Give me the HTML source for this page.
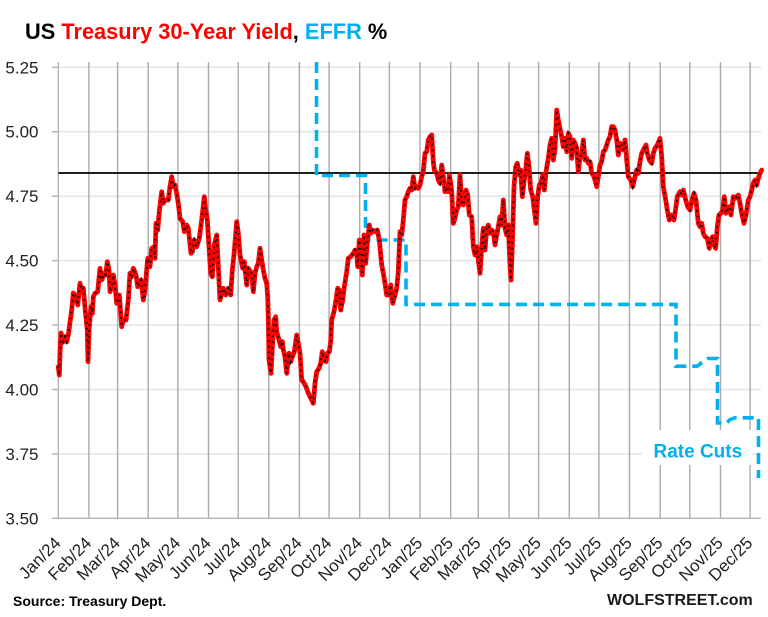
<!DOCTYPE html>
<html><head><meta charset="utf-8"><style>
html,body{margin:0;padding:0;background:#fff;}
svg{display:block;}
text{font-family:"Liberation Sans",Arial,sans-serif;}
</style></head><body>
<svg width="768" height="617" viewBox="0 0 768 617" xmlns="http://www.w3.org/2000/svg">
<defs>
<polyline id="yl" fill="none" points="58.3,366.7 59.3,375 60,353 61,333 63.3,341.7 65,336.7 66.7,341.7 68.3,335 71.7,310 73.3,293 75.7,296.7 77.7,305 80,283.3 81.7,290 83.3,288.3 85.7,315 87.3,330 88,361.7 89,330 91,306.7 92.3,313.3 93.3,296.7 95,293.3 97.7,291.7 100,268.3 101.7,280 104,273.3 105.7,275 107.3,261.7 109,270 110,291.7 111.7,286.7 113.3,275 115,285 116.7,303.3 119.3,295 121.7,326.7 123.3,320 126,320 128.3,300 130,273.3 131.7,276.7 133.3,268.3 136,275 137.7,286.7 141,280 143.3,300 145,290 147.7,258.3 150,266.7 151.7,248.3 154,246.7 155,258.3 156,223.3 157.7,230 159.3,211.7 161.7,191.7 163.3,203.3 165,200 168.3,200 170,186.7 171.7,176.7 173.3,186.7 175,185 176.7,193.3 178.3,203.3 180,218.3 182.7,221.7 184.3,231.7 186.7,225 188.3,228.3 191,253.3 192.3,251.7 194.3,240 196.7,246.7 199.3,238.3 201.7,220 204.3,196.7 205.7,210 207.3,220 209,246.7 210.7,273.3 212.3,276.7 214.3,245 216.7,235 218.3,266.7 220,300 221.7,293.3 223.3,288.3 225.7,295 228.3,288.3 230.7,295 232.3,270 234,255 236.7,221.7 238.3,233.3 240,255 242.7,268.3 244.3,261.7 246.7,285 248.3,268.3 251.7,273.3 253.3,291.7 255,273.3 256.7,266.7 258.3,263.3 260,248.3 261.7,260 263.3,270 265,278.3 266.7,283.3 267.7,296.7 268.3,316.7 269,360 271,373.3 272.7,340 274,320 275.7,316.7 276.7,331.7 279,340 280.7,346.7 282.3,341.7 283.3,350 285,356.7 286.7,373.3 289,353.3 290.7,361.7 292.3,356.7 294.3,351.7 296.7,335 298.3,343.3 300,353.3 301.7,380 303.3,381.7 306,386.7 308.3,393.3 310,396.7 311.7,400 313.3,403.3 315,383.3 316.7,371.7 319,368.3 320.7,363.3 322.3,351.7 324,360 326,361.7 327.3,353.3 329.3,351.7 330.7,341.7 331.7,320 334,311.7 336,300 337.7,288.3 339.3,290 340.7,310 342.7,300 344.3,286.7 346.7,271.7 348.3,258.3 350.7,256.7 353.3,253.3 355,250 356.7,253.3 357.7,266.7 359.3,240 361,256.7 362.3,275 364,235 365.7,263.3 367.3,243.3 369.3,225 370.7,233.3 372.7,230 375,231.7 377.3,230 379.3,240 381.7,265 383.3,273.3 385,283.3 386.7,295 389.3,295 390.7,285 392.7,303.3 395,295 396.7,288.3 398.3,271.7 400,231.7 401.7,235 403.3,220 405,200 406.7,196.7 408.3,191.7 410,188.3 411.7,190 413.3,176.7 415,188.3 416.7,186.7 418.3,188.3 420,185 421.7,176.7 423.3,171.7 425,153.3 426.7,151.7 428.3,140 430,136.7 431.7,135 433.3,161.7 434.3,170 436.7,173.3 438.3,180 440,183.3 441.7,165 443.3,176.7 445,191.7 446.7,186.7 448.3,191.7 449.3,175 450.7,183.3 451.7,191.7 453.3,223.3 455,218.3 456.7,210 458.3,206.7 460,175 461.7,203.3 463.3,205 465,196.7 466,190 467.7,195 469.3,215 471.7,216.7 473.3,246.7 475,255 476.7,246.7 478.3,260 480,273.3 481.7,246.7 483.3,228.3 485,250 486.7,228.3 488.3,225 490,233.3 491.7,230 493.3,231.7 495,245 496.7,235 498.3,226.7 500,216.7 501.7,225 503.3,200 505,228.3 506.7,235 508.3,225 510,265 511,280 512.3,245 514,186.7 515.7,166.7 517.3,163.3 519,175 520.7,170 522.3,196.7 524,181.7 525.7,170 527.3,153.3 529,166.7 530.7,190 532.7,196.7 534.3,210 536,223.3 537.7,196.7 539.3,185 541,183.3 542.7,175 544.3,190 546,171.7 548.3,158.3 550,145 551.7,138.3 553.3,160 555,150 556.7,110 558.3,120 560,128.3 561.7,136.7 563.3,146.7 565,138.3 566.7,151.7 568.3,133.3 570,136.7 571.7,158.3 573.3,140 575,143.3 576.7,148.3 578.3,171.7 580,156.7 581.7,155 583.3,140 585,160 586.7,158.3 588.3,163.3 590,161.7 591.7,173.3 593.3,175 595,180 596.7,186.7 598.3,176.7 600,165 601.7,161.7 603.3,151.7 605,150 606.7,145 608.3,140 610,136.7 611.7,126.7 613.3,126.7 615,130 616.7,140 618.3,155 620,143.3 621.7,145 623.3,150 625,140 626,150 626.7,160 628.3,176.7 630.7,180 632.7,186.7 635,176.7 636.7,170 638.3,173.3 640,161.7 641.7,153.3 643.3,150 646,145 647.3,153.3 649.3,160 651.7,163.3 653.3,153.3 655,148.3 657.3,145 660,138.3 661.7,156.7 663.3,186.7 665.7,200 667.3,210 669.3,220 671.7,215 674,220 676,206.7 677.3,196.7 680,191.7 681.7,195 683.3,190 685.7,200 687.7,206.7 690,210 691.7,201.7 694,193.3 696,200 698.3,223.3 700,226.7 701.7,223.3 703.3,233.3 705,236.7 707.3,238.3 709.3,248.3 710.7,240 712.7,236.7 714,245 715.7,248.3 717.3,226.7 719,215 721,213.3 722.7,210 724.3,196.7 726,213.3 727.3,210 729.3,206.7 731,215 733.3,196.7 735,198.3 736.7,196.7 738.3,195 740,203.3 741.7,213.3 744,223.3 746,215 748.3,200 750,196.7 751.7,190 753.3,183.3 755,180 756.7,185 758.3,178.3 760,173.3 761.7,170"/>
</defs>
<rect width="768" height="617" fill="#fff"/>
<text x="25" y="39" font-size="21.8" font-weight="bold" fill="#000">US <tspan fill="#ff0000">Treasury 30-Year Yield</tspan>, <tspan fill="#00b0f0">EFFR</tspan> %</text>

<g stroke="#e9e9ee" stroke-width="2">
<line x1="58.3" y1="67.3" x2="761" y2="67.3"/>
<line x1="58.3" y1="131.7" x2="761" y2="131.7"/>
<line x1="58.3" y1="196.2" x2="761" y2="196.2"/>
<line x1="58.3" y1="260.6" x2="761" y2="260.6"/>
<line x1="58.3" y1="325" x2="761" y2="325"/>
<line x1="58.3" y1="389.5" x2="761" y2="389.5"/>
<line x1="58.3" y1="453.9" x2="761" y2="453.9"/>
</g>
<g stroke="#ababab" stroke-width="1.4">
<line x1="88.9" y1="62" x2="88.9" y2="518.3"/>
<line x1="117.6" y1="62" x2="117.6" y2="518.3"/>
<line x1="148.2" y1="62" x2="148.2" y2="518.3"/>
<line x1="177.9" y1="62" x2="177.9" y2="518.3"/>
<line x1="208.5" y1="62" x2="208.5" y2="518.3"/>
<line x1="238.2" y1="62" x2="238.2" y2="518.3"/>
<line x1="268.8" y1="62" x2="268.8" y2="518.3"/>
<line x1="299.4" y1="62" x2="299.4" y2="518.3"/>
<line x1="329.1" y1="62" x2="329.1" y2="518.3"/>
<line x1="359.7" y1="62" x2="359.7" y2="518.3"/>
<line x1="389.4" y1="62" x2="389.4" y2="518.3"/>
<line x1="420" y1="62" x2="420" y2="518.3"/>
<line x1="450.7" y1="62" x2="450.7" y2="518.3"/>
<line x1="478.3" y1="62" x2="478.3" y2="518.3"/>
<line x1="509" y1="62" x2="509" y2="518.3"/>
<line x1="538.6" y1="62" x2="538.6" y2="518.3"/>
<line x1="569.3" y1="62" x2="569.3" y2="518.3"/>
<line x1="598.9" y1="62" x2="598.9" y2="518.3"/>
<line x1="629.5" y1="62" x2="629.5" y2="518.3"/>
<line x1="660.2" y1="62" x2="660.2" y2="518.3"/>
<line x1="689.8" y1="62" x2="689.8" y2="518.3"/>
<line x1="720.5" y1="62" x2="720.5" y2="518.3"/>
<line x1="750.1" y1="62" x2="750.1" y2="518.3"/>
</g>
<g stroke="#b5b5b5" stroke-width="1.4">
<line x1="58.3" y1="62" x2="58.3" y2="518.3"/>
<line x1="51.7" y1="518.3" x2="761" y2="518.3"/>
<line x1="51.7" y1="67.3" x2="58.3" y2="67.3"/>
<line x1="51.7" y1="131.7" x2="58.3" y2="131.7"/>
<line x1="51.7" y1="196.2" x2="58.3" y2="196.2"/>
<line x1="51.7" y1="260.6" x2="58.3" y2="260.6"/>
<line x1="51.7" y1="325" x2="58.3" y2="325"/>
<line x1="51.7" y1="389.5" x2="58.3" y2="389.5"/>
<line x1="51.7" y1="453.9" x2="58.3" y2="453.9"/>
</g>
<g font-size="17" fill="#1f1f1f" text-anchor="end">
<text x="38.5" y="73.3">5.25</text>
<text x="38.5" y="137.7">5.00</text>
<text x="38.5" y="202.2">4.75</text>
<text x="38.5" y="266.6">4.50</text>
<text x="38.5" y="331">4.25</text>
<text x="38.5" y="395.5">4.00</text>
<text x="38.5" y="459.9">3.75</text>
<text x="38.5" y="524.3">3.50</text>
</g>
<g font-size="17" fill="#1f1f1f" text-anchor="end">
<text transform="translate(61.8,544) rotate(-45)">Jan/24</text>
<text transform="translate(92.4,544) rotate(-45)">Feb/24</text>
<text transform="translate(121.1,544) rotate(-45)">Mar/24</text>
<text transform="translate(151.7,544) rotate(-45)">Apr/24</text>
<text transform="translate(181.4,544) rotate(-45)">May/24</text>
<text transform="translate(212,544) rotate(-45)">Jun/24</text>
<text transform="translate(241.7,544) rotate(-45)">Jul/24</text>
<text transform="translate(272.3,544) rotate(-45)">Aug/24</text>
<text transform="translate(302.9,544) rotate(-45)">Sep/24</text>
<text transform="translate(332.6,544) rotate(-45)">Oct/24</text>
<text transform="translate(363.2,544) rotate(-45)">Nov/24</text>
<text transform="translate(392.9,544) rotate(-45)">Dec/24</text>
<text transform="translate(423.5,544) rotate(-45)">Jan/25</text>
<text transform="translate(454.2,544) rotate(-45)">Feb/25</text>
<text transform="translate(481.8,544) rotate(-45)">Mar/25</text>
<text transform="translate(512.5,544) rotate(-45)">Apr/25</text>
<text transform="translate(542.1,544) rotate(-45)">May/25</text>
<text transform="translate(572.8,544) rotate(-45)">Jun/25</text>
<text transform="translate(602.4,544) rotate(-45)">Jul/25</text>
<text transform="translate(633,544) rotate(-45)">Aug/25</text>
<text transform="translate(663.7,544) rotate(-45)">Sep/25</text>
<text transform="translate(693.3,544) rotate(-45)">Oct/25</text>
<text transform="translate(724,544) rotate(-45)">Nov/25</text>
<text transform="translate(753.6,544) rotate(-45)">Dec/25</text>
</g>

<rect x="642" y="430" width="110" height="35" fill="#fff"/>
<text x="653.5" y="457.5" font-size="19" font-weight="bold" fill="#00b0f0">Rate Cuts</text>

<line x1="58.3" y1="173" x2="762" y2="173" stroke="#000" stroke-width="1.8"/>

<polyline fill="none" stroke="#00b0f0" stroke-width="3.6" stroke-dasharray="11 6" points="316.5,62 316.5,175.5 365.5,175.5 365.5,240 406,240 406,304.4 676,304.4 676,366.2 697,366.2 700,364 704,361 708,358.5 717.5,358.5 717.5,422.9 727,422.9 730,419.5 735,417.8 758.5,417.8 758.5,478"/>

<use href="#yl" stroke="#ff0000" stroke-width="4.8" stroke-linejoin="round" stroke-linecap="round"/>
<use href="#yl" stroke="#111" stroke-width="2" stroke-dasharray="1.6 4.2"/>

<text x="13" y="606" font-size="14" font-weight="bold" fill="#000">Source: Treasury Dept.</text>
<text x="607" y="605" font-size="16" font-weight="bold" fill="#1a1a1a">WOLFSTREET.com</text>
</svg>
</body></html>
